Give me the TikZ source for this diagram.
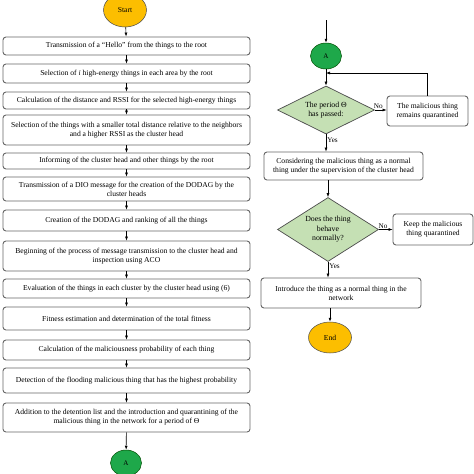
\documentclass[tikz,border=0pt]{standalone}
\usepackage{fontspec}
\setmainfont{Liberation Serif}
\usetikzlibrary{arrows.meta,shapes.geometric}

\definecolor{startyellow}{RGB}{252,190,0}
\definecolor{agreen}{RGB}{30,168,74}
\definecolor{dgreen}{RGB}{197,224,180}

\begin{document}
\begin{tikzpicture}[x=1pt,y=-1pt,line width=.5pt,
  flowbox/.style={draw=gray!80!black,line width=.9pt,rounded corners=3pt,fill=white,align=center,inner sep=1pt,font=\fontsize{7.6}{9.2}\selectfont},
  leftbox/.style={flowbox,minimum width=247pt},
  terminal/.style={ellipse,draw=gray!60!black,fill=startyellow,inner sep=0pt,font=\fontsize{7.6}{9}\selectfont},
  connector/.style={ellipse,draw=green!30!black,fill=agreen,inner sep=0pt,minimum width=31pt,minimum height=26pt,font=\fontsize{7}{8}\selectfont},
  decision/.style={diamond,aspect=1.6,draw=gray!60!black,line width=.7pt,fill=dgreen,inner sep=0pt,align=center,font=\fontsize{7.8}{9.6}\selectfont},
  flow/.style={-{Latex[length=4pt,width=3pt]},line width=.6pt},
  lbl/.style={inner sep=1pt,font=\fontsize{7.2}{8}\selectfont}]
\clip (0,0) rectangle (474,474);
\path[use as bounding box,fill=white] (0,0) rectangle (474,474);

% left column
\node[terminal,minimum width=43pt,minimum height=34pt] (start) at (125,10) {\raisebox{-2pt}{Start}};
\node[leftbox,minimum height=18pt] (b1) at (126.5,46) {Transmission of a “Hello” from the things to the root};
\node[leftbox,minimum height=19pt] (b2) at (126.5,73.5) {Selection of \textit{i} high-energy things in each area by the root};
\node[leftbox,minimum height=17pt] (b3) at (126.5,100.5) {Calculation of the distance and RSSI for the selected high-energy things};
\node[leftbox,minimum height=30pt] (b4) at (126.5,130) {Selection of the things with a smaller total distance relative to the neighbors\\and a higher RSSI as the cluster head};
\node[leftbox,minimum height=16pt] (b5) at (126.5,161) {Informing of the cluster head and other things by the root};
\node[leftbox,minimum height=24pt] (b6) at (126.5,189) {Transmission of a DIO message for the creation of the DODAG by the\\cluster heads};
\node[leftbox,minimum height=21pt] (b7) at (126.5,220.5) {Creation of the DODAG and ranking of all the things};
\node[leftbox,minimum height=30pt] (b8) at (126.5,256) {Beginning of the process of message transmission to the cluster head and\\inspection using ACO};
\node[leftbox,minimum height=19pt] (b9) at (126.5,288.5) {Evaluation of the things in each cluster by the cluster head using (6)};
\node[leftbox,minimum height=23pt] (b10) at (126.5,318.5) {Fitness estimation and determination of the total fitness};
\node[leftbox,minimum height=20pt] (b11) at (126.5,350) {Calculation of the maliciousness probability of each thing};
\node[leftbox,minimum height=25pt] (b12) at (126.5,380.5) {Detection of the flooding malicious thing that has the highest probability};
\node[leftbox,minimum height=29pt] (b13) at (126.5,417.5) {Addition to the detention list and the introduction and quarantining of the\\malicious thing in the network for a period of Θ};
\node[connector] (a1) at (126,463) {A};

\draw[flow] (start) -- (b1);
\draw[flow] (b1) -- (b2);
\draw[flow] (b2) -- (b3);
\draw[flow] (b3) -- (b4);
\draw[flow] (b4) -- (b5);
\draw[flow] (b5) -- (b6);
\draw[flow] (b6) -- (b7);
\draw[flow] (b7) -- (b8);
\draw[flow] (b8) -- (b9);
\draw[flow] (b9) -- (b10);
\draw[flow] (b10) -- (b11);
\draw[flow] (b11) -- (b12);
\draw[flow] (b12) -- (b13);
\draw[flow] (b13) -- (a1);

% right column
\coordinate (top) at (326,20);
\node[connector] (a2) at (326,56) {A};
\node[decision,minimum width=97pt,minimum height=48pt] (d1) at (326,110) {The period Θ\\has passed:};
\node[flowbox,minimum width=81pt,minimum height=30pt] (q1) at (427.5,111) {The malicious thing\\remains quarantined};
\coordinate (back) at (326,73);
\node[flowbox,minimum width=159pt,minimum height=28pt] (c1) at (343.5,166) {Considering the malicious thing as a normal\\thing under the supervision of the cluster head};
\node[decision,minimum width=101pt,minimum height=64pt] (d2) at (328,229.5) {Does the thing\\behave\\normally?};
\node[flowbox,minimum width=80pt,minimum height=31pt] (k1) at (433,229.5) {Keep the malicious\\thing quarantined};
\node[flowbox,minimum width=160pt,minimum height=30pt] (n1) at (341,293) {Introduce the thing as a normal thing in the\\network};
\node[terminal,minimum width=43pt,minimum height=31pt] (end) at (330,337.5) {End};

\draw[flow] (top) -- (a2);
\draw[flow] (a2) -- (d1);
\draw[flow] (d1.east) -- node[lbl,above,pos=.3] {No} (q1.west |- d1.east);
\draw[flow] (q1.north) |- (back);
\draw[flow] (d1.south) -- node[lbl,right,pos=.35] {Yes} (d1.south |- c1.north);
\draw[flow] (c1.south -| d2.north) -- (d2.north);
\draw[flow] (d2.east) -- node[lbl,above,pos=.3] {No} (k1.west |- d2.east);
\draw[flow] (d2.south) -- node[lbl,right,pos=.3] {Yes} (d2.south |- n1.north);
\draw[flow] (n1.south -| end.north) -- (end.north);
\end{tikzpicture}
\end{document}
